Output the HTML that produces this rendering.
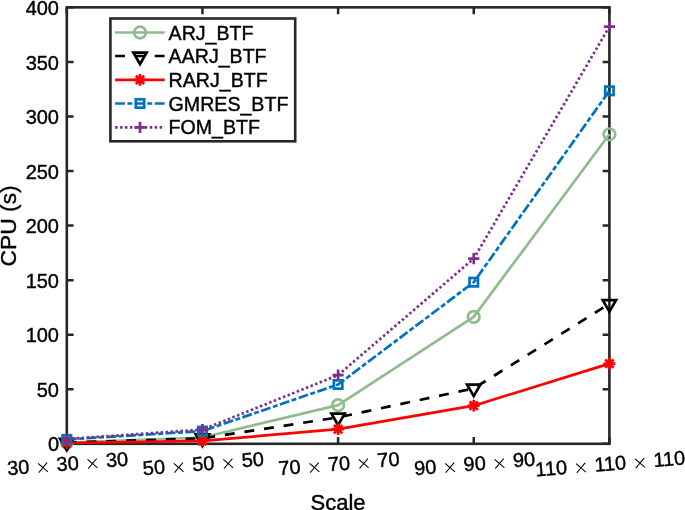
<!DOCTYPE html>
<html lang="en"><head><meta charset="utf-8"><title>CPU vs Scale</title>
<style>html,body{margin:0;padding:0;background:#fff}body{width:685px;height:510px;overflow:hidden}svg{display:block}</style>
</head><body>
<svg width="685" height="510" viewBox="0 0 685 510">
<rect width="685" height="510" fill="#fff"/>
<path d="M66.80 443.8V437.0M66.80 7.35V14.149999999999999M202.45 443.8V437.0M202.45 7.35V14.149999999999999M338.10 443.8V437.0M338.10 7.35V14.149999999999999M473.75 443.8V437.0M473.75 7.35V14.149999999999999M609.40 443.8V437.0M609.40 7.35V14.149999999999999M66.8 443.80H73.6M609.4 443.80H602.6M66.8 389.24H73.6M609.4 389.24H602.6M66.8 334.69H73.6M609.4 334.69H602.6M66.8 280.13H73.6M609.4 280.13H602.6M66.8 225.58H73.6M609.4 225.58H602.6M66.8 171.02H73.6M609.4 171.02H602.6M66.8 116.46H73.6M609.4 116.46H602.6M66.8 61.91H73.6M609.4 61.91H602.6M66.8 7.35H73.6M609.4 7.35H602.6" stroke="#262626" stroke-width="2.5" fill="none"/>
<rect x="66.8" y="7.35" width="542.60" height="436.45" fill="none" stroke="#262626" stroke-width="2.6"/>
<g font-family="'Liberation Sans', sans-serif" font-size="20px" fill="#000" stroke="#000" stroke-width="0.4">
<text x="59.0" y="451.40" text-anchor="end">0</text>
<text x="59.0" y="396.84" text-anchor="end">50</text>
<text x="59.0" y="342.29" text-anchor="end">100</text>
<text x="59.0" y="287.73" text-anchor="end">150</text>
<text x="59.0" y="233.18" text-anchor="end">200</text>
<text x="59.0" y="178.62" text-anchor="end">250</text>
<text x="59.0" y="124.06" text-anchor="end">300</text>
<text x="59.0" y="69.51" text-anchor="end">350</text>
<text x="59.0" y="14.95" text-anchor="end">400</text>
<text transform="translate(67.60 463.2) rotate(-4.6)" x="0" y="7.2" text-anchor="middle" word-spacing="0.4px">30 <tspan font-family="'Noto Sans CJK SC', 'Liberation Sans', sans-serif" font-size="15.4px" stroke="none" dy="0.9">×</tspan><tspan dy="-0.9"> 30 </tspan><tspan font-family="'Noto Sans CJK SC', 'Liberation Sans', sans-serif" font-size="15.4px" stroke="none" dy="0.9">×</tspan><tspan dy="-0.9"> 30</tspan></text>
<text transform="translate(203.25 463.2) rotate(-4.6)" x="0" y="7.2" text-anchor="middle" word-spacing="0.4px">50 <tspan font-family="'Noto Sans CJK SC', 'Liberation Sans', sans-serif" font-size="15.4px" stroke="none" dy="0.9">×</tspan><tspan dy="-0.9"> 50 </tspan><tspan font-family="'Noto Sans CJK SC', 'Liberation Sans', sans-serif" font-size="15.4px" stroke="none" dy="0.9">×</tspan><tspan dy="-0.9"> 50</tspan></text>
<text transform="translate(338.90 463.2) rotate(-4.6)" x="0" y="7.2" text-anchor="middle" word-spacing="0.4px">70 <tspan font-family="'Noto Sans CJK SC', 'Liberation Sans', sans-serif" font-size="15.4px" stroke="none" dy="0.9">×</tspan><tspan dy="-0.9"> 70 </tspan><tspan font-family="'Noto Sans CJK SC', 'Liberation Sans', sans-serif" font-size="15.4px" stroke="none" dy="0.9">×</tspan><tspan dy="-0.9"> 70</tspan></text>
<text transform="translate(474.55 463.2) rotate(-4.6)" x="0" y="7.2" text-anchor="middle" word-spacing="0.4px">90 <tspan font-family="'Noto Sans CJK SC', 'Liberation Sans', sans-serif" font-size="15.4px" stroke="none" dy="0.9">×</tspan><tspan dy="-0.9"> 90 </tspan><tspan font-family="'Noto Sans CJK SC', 'Liberation Sans', sans-serif" font-size="15.4px" stroke="none" dy="0.9">×</tspan><tspan dy="-0.9"> 90</tspan></text>
<text transform="translate(610.20 463.2) rotate(-4.6)" x="0" y="7.2" text-anchor="middle" word-spacing="0.4px">110 <tspan font-family="'Noto Sans CJK SC', 'Liberation Sans', sans-serif" font-size="15.4px" stroke="none" dy="0.9">×</tspan><tspan dy="-0.9"> 110 </tspan><tspan font-family="'Noto Sans CJK SC', 'Liberation Sans', sans-serif" font-size="15.4px" stroke="none" dy="0.9">×</tspan><tspan dy="-0.9"> 110</tspan></text>
</g>
<g font-family="'Liberation Sans', sans-serif" font-size="22px" fill="#000" stroke="#000" stroke-width="0.4">
<text x="338.1" y="509.8" text-anchor="middle">Scale</text>
<text transform="translate(16.4 225.9) rotate(-90)" text-anchor="middle" font-size="22.8px">CPU (s)</text>
</g>
<polyline points="66.80,442.60 202.45,437.50 338.10,405.10 473.75,316.90 609.40,134.30" fill="none" stroke="#8fbc8f" stroke-width="2.7" stroke-linejoin="round"/>
<circle cx="66.80" cy="442.60" r="5.8" fill="none" stroke="#8fbc8f" stroke-width="2.7"/>
<circle cx="202.45" cy="437.50" r="5.8" fill="none" stroke="#8fbc8f" stroke-width="2.7"/>
<circle cx="338.10" cy="405.10" r="5.8" fill="none" stroke="#8fbc8f" stroke-width="2.7"/>
<circle cx="473.75" cy="316.90" r="5.8" fill="none" stroke="#8fbc8f" stroke-width="2.7"/>
<circle cx="609.40" cy="134.30" r="5.8" fill="none" stroke="#8fbc8f" stroke-width="2.7"/>
<polyline points="66.80,442.60 202.45,438.30 338.10,417.40 473.75,388.40 609.40,303.90" fill="none" stroke="#000000" stroke-width="2.7" stroke-linejoin="round" stroke-dasharray="9.9 9.9"/>
<path d="M60.16 438.77H73.44L66.80 450.27Z" fill="none" stroke="#000000" stroke-width="2.7" stroke-linejoin="miter"/>
<path d="M195.81 434.47H209.09L202.45 445.97Z" fill="none" stroke="#000000" stroke-width="2.7" stroke-linejoin="miter"/>
<path d="M331.46 413.57H344.74L338.10 425.07Z" fill="none" stroke="#000000" stroke-width="2.7" stroke-linejoin="miter"/>
<path d="M467.11 384.57H480.39L473.75 396.07Z" fill="none" stroke="#000000" stroke-width="2.7" stroke-linejoin="miter"/>
<path d="M602.76 300.07H616.04L609.40 311.57Z" fill="none" stroke="#000000" stroke-width="2.7" stroke-linejoin="miter"/>
<polyline points="66.80,443.00 202.45,440.90 338.10,429.20 473.75,405.70 609.40,363.60" fill="none" stroke="#ff0000" stroke-width="2.7" stroke-linejoin="round"/>
<path d="M60.90 443.00H72.70M66.80 437.10V448.90M62.63 438.83L70.97 447.17M62.63 447.17L70.97 438.83" fill="none" stroke="#ff0000" stroke-width="2.7"/>
<path d="M196.55 440.90H208.35M202.45 435.00V446.80M198.28 436.73L206.62 445.07M198.28 445.07L206.62 436.73" fill="none" stroke="#ff0000" stroke-width="2.7"/>
<path d="M332.20 429.20H344.00M338.10 423.30V435.10M333.93 425.03L342.27 433.37M333.93 433.37L342.27 425.03" fill="none" stroke="#ff0000" stroke-width="2.7"/>
<path d="M467.85 405.70H479.65M473.75 399.80V411.60M469.58 401.53L477.92 409.87M469.58 409.87L477.92 401.53" fill="none" stroke="#ff0000" stroke-width="2.7"/>
<path d="M603.50 363.60H615.30M609.40 357.70V369.50M605.23 359.43L613.57 367.77M605.23 367.77L613.57 359.43" fill="none" stroke="#ff0000" stroke-width="2.7"/>
<polyline points="66.80,439.50 202.45,431.10 338.10,384.50 473.75,282.20 609.40,90.80" fill="none" stroke="#0072bd" stroke-width="2.7" stroke-linejoin="round" stroke-dasharray="9.9 2.475 4.95 2.475"/>
<rect x="62.60" y="435.30" width="8.40" height="8.40" fill="none" stroke="#0072bd" stroke-width="2.7"/>
<rect x="198.25" y="426.90" width="8.40" height="8.40" fill="none" stroke="#0072bd" stroke-width="2.7"/>
<rect x="333.90" y="380.30" width="8.40" height="8.40" fill="none" stroke="#0072bd" stroke-width="2.7"/>
<rect x="469.55" y="278.00" width="8.40" height="8.40" fill="none" stroke="#0072bd" stroke-width="2.7"/>
<rect x="605.20" y="86.60" width="8.40" height="8.40" fill="none" stroke="#0072bd" stroke-width="2.7"/>
<polyline points="66.80,439.00 202.45,429.60 338.10,375.10 473.75,258.60 609.40,26.60" fill="none" stroke="#7e2f8e" stroke-width="2.7" stroke-linejoin="round" stroke-dasharray="2.475 2.475"/>
<path d="M61.20 439.00H72.40M66.80 433.40V444.60" fill="none" stroke="#7e2f8e" stroke-width="2.7"/>
<path d="M196.85 429.60H208.05M202.45 424.00V435.20" fill="none" stroke="#7e2f8e" stroke-width="2.7"/>
<path d="M332.50 375.10H343.70M338.10 369.50V380.70" fill="none" stroke="#7e2f8e" stroke-width="2.7"/>
<path d="M468.15 258.60H479.35M473.75 253.00V264.20" fill="none" stroke="#7e2f8e" stroke-width="2.7"/>
<path d="M603.80 26.60H615.00M609.40 21.00V32.20" fill="none" stroke="#7e2f8e" stroke-width="2.7"/>
<rect x="110.4" y="18.5" width="184.80" height="122.80" fill="#fff" stroke="#262626" stroke-width="2.6"/>
<g font-family="'Liberation Sans', sans-serif" font-size="19.6px" fill="#000" stroke="#000" stroke-width="0.4">
<path d="M115.1 32.5H164.7" fill="none" stroke="#8fbc8f" stroke-width="2.7"/>
<circle cx="140.00" cy="32.50" r="5.8" fill="none" stroke="#8fbc8f" stroke-width="2.7"/>
<text x="168.6" y="39.50">ARJ_BTF</text>
<path d="M115.1 56.0H164.7" fill="none" stroke="#000000" stroke-width="2.7" stroke-dasharray="9.9 9.9"/>
<path d="M133.36 52.57H146.64L140.00 64.07Z" fill="none" stroke="#000000" stroke-width="2.7" stroke-linejoin="miter"/>
<text x="168.6" y="63.00">AARJ_BTF</text>
<path d="M115.1 79.9H164.7" fill="none" stroke="#ff0000" stroke-width="2.7"/>
<path d="M134.10 79.90H145.90M140.00 74.00V85.80M135.83 75.73L144.17 84.07M135.83 84.07L144.17 75.73" fill="none" stroke="#ff0000" stroke-width="2.7"/>
<text x="168.6" y="86.90">RARJ_BTF</text>
<path d="M115.1 103.5H164.7" fill="none" stroke="#0072bd" stroke-width="2.7" stroke-dasharray="9.9 2.475 4.95 2.475"/>
<rect x="135.80" y="99.30" width="8.40" height="8.40" fill="none" stroke="#0072bd" stroke-width="2.7"/>
<text x="168.6" y="110.50">GMRES_BTF</text>
<path d="M115.1 127.4H164.7" fill="none" stroke="#7e2f8e" stroke-width="2.7" stroke-dasharray="2.475 2.475"/>
<path d="M134.40 127.40H145.60M140.00 121.80V133.00" fill="none" stroke="#7e2f8e" stroke-width="2.7"/>
<text x="168.6" y="134.40">FOM_BTF</text>
</g>
</svg>
</body></html>
